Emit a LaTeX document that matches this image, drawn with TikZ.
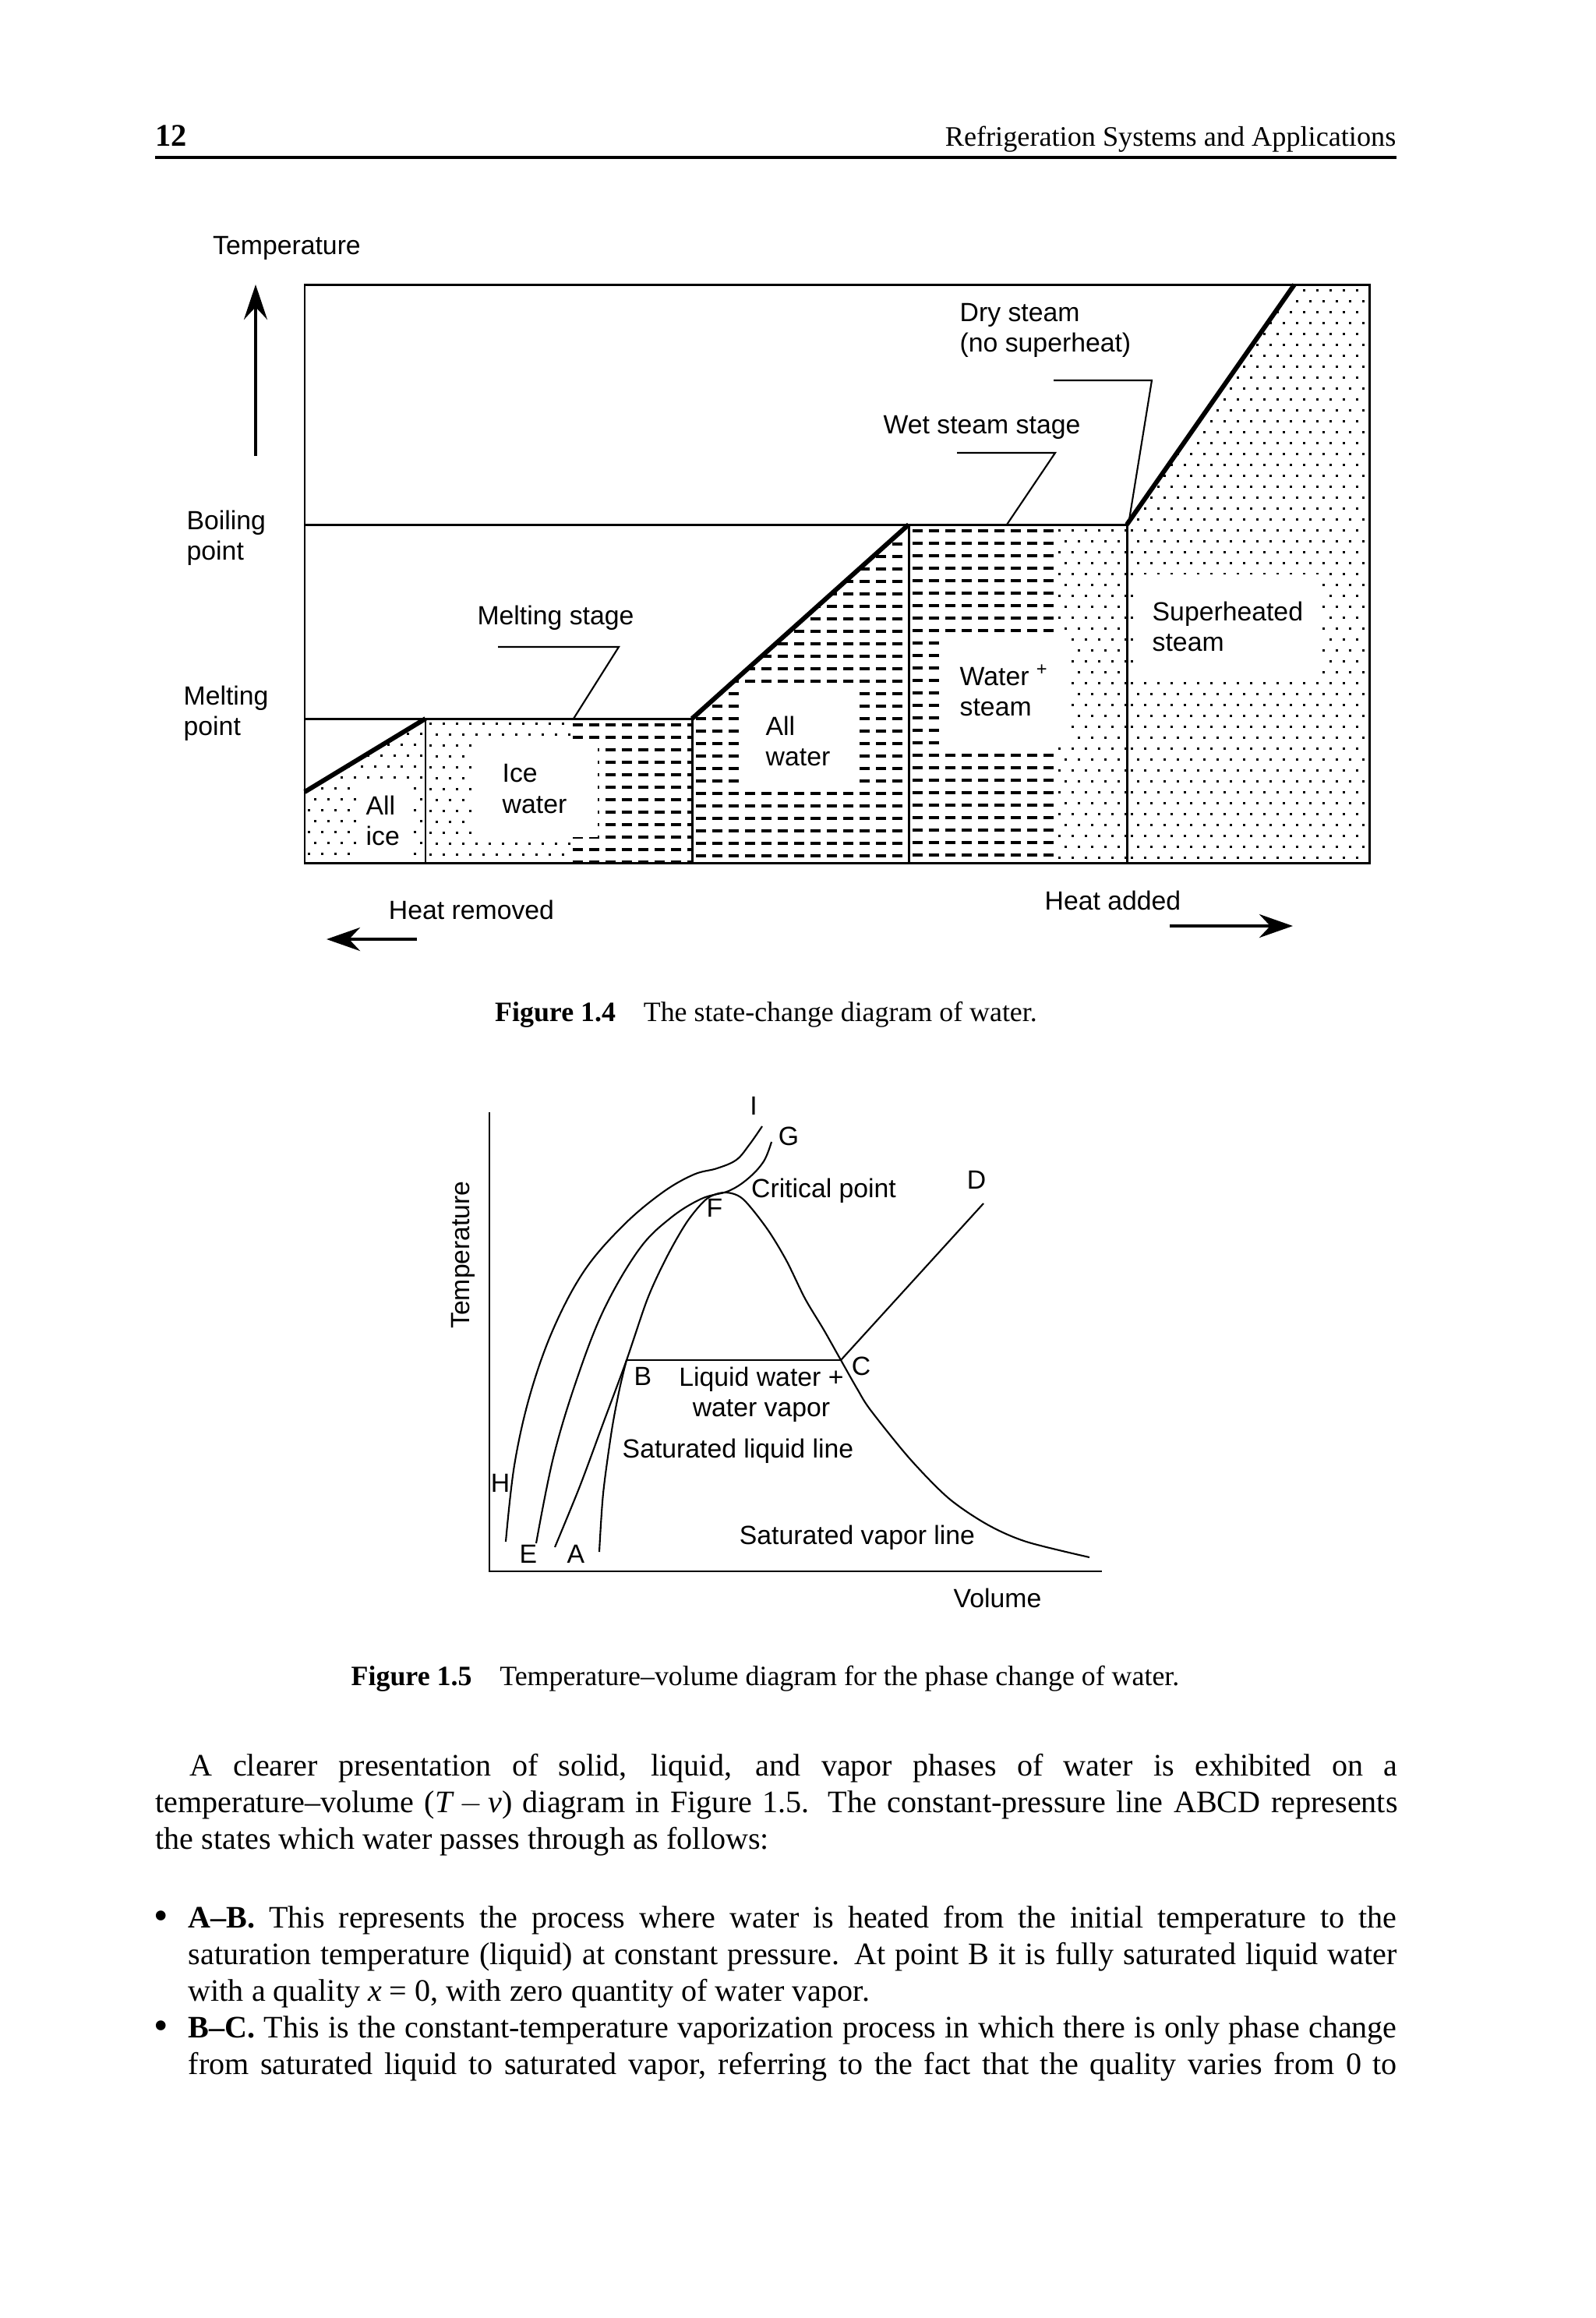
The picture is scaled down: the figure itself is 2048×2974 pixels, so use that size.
\documentclass[tikz,border=0pt]{standalone}
\usepackage{fontspec}
\setmainfont{Liberation Serif}
\newfontfamily\figsans{Liberation Sans}
\usetikzlibrary{arrows.meta}

% stipple and dash fills for the phase regions (px coordinates)
\newcommand{\dotgrid}[4]{%
  \pgfmathtruncatemacro{\dgnx}{(#2-#1)/17}%
  \pgfmathtruncatemacro{\dgny}{(#4-#3)/14}%
  \foreach \i in {0,...,\dgnx}{%
    \foreach \j in {0,...,\dgny}{%
      \fill ({#1+17*\i+8*mod(\j,2)},{#3+14*\j}) rectangle ++(3,3);%
    }%
  }%
}
\newcommand{\dashgrid}[4]{%
  \pgfmathtruncatemacro{\dgnx}{(#2-#1)/21}%
  \pgfmathtruncatemacro{\dgny}{(#4-#3)/16}%
  \foreach \i in {0,...,\dgnx}{%
    \foreach \j in {0,...,\dgny}{%
      \fill ({#1+21*\i},{#3+16*\j}) rectangle ++(13,3.5);%
    }%
  }%
}

\tikzset{
  boxline/.style={line width=0.85pt},
  phaseline/.style={line width=1.7pt},
  leader/.style={line width=0.6pt},
  curve/.style={line width=0.6pt},
  lbl/.style={font=\figsans\fontsize{9.6}{11.2}\selectfont, inner sep=0pt, align=left},
  hole/.style={lbl, fill=white, anchor=west},
  temparrow/.style={line width=1pt, -{Stealth[length=0.45cm, width=0.3cm, inset=0.16cm]}},
  heatarrow/.style={line width=1.3pt, -{Stealth[length=0.43cm, width=0.3cm, inset=0.14cm]}},
  bodytext/.style={font=\fontsize{11.4}{13.4}\selectfont, inner sep=0pt, anchor=base west, align=justify},
  captext/.style={font=\fontsize{10.2}{12}\selectfont, inner sep=0pt, anchor=base},
  headtext/.style={font=\fontsize{10.3}{12}\selectfont, inner sep=0pt},
  bulletmark/.style={font=\fontsize{15}{15}\selectfont, inner sep=0pt, anchor=base west}
}

\begin{document}
\begin{tikzpicture}[x=0.01cm, y=-0.01cm]
\useasboundingbox (0,0) rectangle (2048,2974);

% running head
\node[headtext, anchor=base west, font=\fontsize{11.5}{12}\selectfont\bfseries] (pagenum) at (199,187) {12};
\node[headtext, anchor=base east] (runhead) at (1792,187) {Refrigeration Systems and Applications};
\coordinate (ruleL) at (199,202);
\coordinate (ruleR) at (1792,202);
\draw[line width=1pt] (ruleL) -- (ruleR);

%% Figure 1.4 -- state-change diagram
% phase region fills
\begin{scope}
  \clip (391,1016) -- (546,922) -- (546,1107) -- (391,1107) -- cycle;
  \dotgrid{395}{545}{926}{1105}
\end{scope}
\begin{scope}
  \clip (546,922) rectangle (888,1107);
  \dotgrid{551}{724}{927}{1104}
  \dashgrid{735}{888}{928}{1104}
\end{scope}
\begin{scope}
  \clip (888,922) -- (1166,673) -- (1166,1107) -- (888,1107) -- cycle;
  \dashgrid{893}{1166}{680}{1104}
\end{scope}
\begin{scope}
  \clip (1166,673) rectangle (1446,1107);
  \dashgrid{1171}{1345}{679}{1104}
  \dotgrid{1358}{1444}{679}{1104}
\end{scope}
\begin{scope}
  \clip (1446,673) -- (1661,365) -- (1757,365) -- (1757,1107) -- (1446,1107) -- cycle;
  \dotgrid{1451}{1755}{371}{1105}
\end{scope}

% region labels (white ground clears the fill)
\node[hole, inner xsep=0.12cm, inner ysep=0.17cm] (allice) at (457,1053) {All\\ice};
\node[hole, inner xsep=0.4cm, inner ysep=0.3cm] (icewater) at (604,1012) {Ice\\water};
\node[hole, inner xsep=0.35cm, inner ysep=0.32cm] (allwater) at (947,951) {All\\water};
\node[hole, inner xsep=0.25cm, inner ysep=0.36cm] (watersteam) at (1206,886) {Water \textsuperscript{+}\\steam};
\node[hole, inner xsep=0.25cm, inner ysep=0.35cm] (superheat) at (1453,804) {Superheated\\steam};

% frame and state lines
\draw[boxline] (391,365) rectangle (1757,1107);
\draw[boxline] (391,673) -- (1446,673);
\draw[boxline] (391,922) -- (888,922);
\draw[boxline] (546,922) -- (546,1107);
\draw[boxline] (888,922) -- (888,1107);
\draw[boxline] (1166,673) -- (1166,1107);
\draw[boxline] (1446,673) -- (1446,1107);
\draw[phaseline] (391,1016) -- (546,922);
\draw[phaseline] (888,922) -- (1166,673);
\draw[phaseline] (1446,673) -- (1661,365);

% axis labels
\node[lbl] (templbl) at (368,318) {Temperature};
\coordinate (tempTail) at (328,585);
\coordinate (tempTip) at (328,365);
\draw[temparrow] (tempTail) -- (tempTip);
\node[lbl, anchor=west] (boillbl) at (239,690) {Boiling\\point};
\node[lbl, anchor=west] (meltlbl) at (235,915) {Melting\\point};

% stage call-outs
\node[lbl] (meltstage) at (713,793) {Melting stage};
\coordinate (meltA) at (639,830);
\coordinate (meltB) at (794,830);
\coordinate (meltC) at (736,922);
\draw[leader] (meltA) -- (meltB) -- (meltC);

\node[lbl] (wetstage) at (1260,548) {Wet steam stage};
\coordinate (wetA) at (1228,581);
\coordinate (wetB) at (1354,581);
\coordinate (wetC) at (1292,673);
\draw[leader] (wetA) -- (wetB) -- (wetC);

\node[lbl, anchor=west] (drysteam) at (1231,424) {Dry steam\\(no superheat)};
\coordinate (dryA) at (1352,488);
\coordinate (dryB) at (1478,488);
\coordinate (dryC) at (1448,673);
\draw[leader] (dryA) -- (dryB) -- (dryC);

% heat direction
\node[lbl] (heatrem) at (605,1167) {Heat removed};
\coordinate (remTail) at (535,1205);
\coordinate (remTip) at (419,1205);
\draw[heatarrow] (remTail) -- (remTip);
\node[lbl] (heatadd) at (1428,1155) {Heat added};
\coordinate (addTail) at (1501,1188);
\coordinate (addTip) at (1659,1188);
\draw[heatarrow] (addTail) -- (addTip);

\node[captext] (cap4) at (983,1310) {\textbf{Figure 1.4}\quad The state-change diagram of water.};

%% Figure 1.5 -- T-v diagram
\coordinate (axTop) at (628,1427);
\coordinate (axOrig) at (628,2016);
\coordinate (axRight) at (1414,2016);
\draw[curve] (axTop) -- (axOrig) -- (axRight);

\coordinate (ptA) at (769,1991);
\coordinate (ptB) at (804,1745);
\coordinate (ptC) at (1079,1745);
\coordinate (ptD) at (1262,1544);

% constant pressure line ABCD
\draw[curve] plot[smooth] coordinates {(769,1991) (774,1916) (785,1835) (795,1782) (804,1745)};
\draw[curve] (ptB) -- (ptC);
\draw[curve] (ptC) -- (ptD);

% saturation dome
\draw[curve] plot[smooth] coordinates {(712,1985) (744,1907) (774,1826) (804,1745) (831,1666)
  (856,1612) (882,1567) (907,1538) (930,1530) (953,1538) (984,1576) (1009,1617) (1033,1666)
  (1057,1706) (1079,1745) (1100,1782) (1117,1809) (1167,1871) (1217,1922) (1267,1956)
  (1317,1978) (1398,1998)};

% curves E-G and H-I
\draw[curve] plot[smooth, tension=0.6] coordinates {(688,1980) (710,1870) (740,1770) (775,1680)
  (820,1603) (860,1563) (900,1538) (935,1528) (960,1512) (980,1490) (990,1465)};
\draw[curve] plot[smooth, tension=0.6] coordinates {(649,1978) (660,1880) (680,1790) (710,1705)
  (750,1630) (800,1572) (850,1530) (890,1507) (920,1499) (945,1488) (962,1468) (978,1445)};

% point and region labels
\node[lbl] (lblI) at (967,1419) {I};
\node[lbl] (lblG) at (1012,1458) {G};
\node[lbl] (critpt) at (1057,1528) {Critical point};
\node[lbl] (lblD) at (1253,1514) {D};
\node[lbl] (lblF) at (917,1550) {F};
\node[lbl] (lblB) at (825,1766) {B};
\node[lbl, align=center] (mixlbl) at (977,1789) {Liquid water +\\water vapor};
\node[lbl] (lblC) at (1105,1753) {C};
\node[lbl] (satliq) at (947,1862) {Saturated liquid line};
\node[lbl] (lblH) at (642,1903) {H};
\node[lbl] (satvap) at (1100,1973) {Saturated vapor line};
\node[lbl] (lblE) at (678,1994) {E};
\node[lbl] (lblA) at (739,1994) {A};
\node[lbl] (vollbl) at (1280,2050) {Volume};
\node[lbl, rotate=90] (tvtemp) at (594,1610) {Temperature};

\node[captext] (cap5) at (982,2162) {\textbf{Figure 1.5}\quad Temperature--volume diagram for the phase change of water.};

%% body text
\node[bodytext, text width=15.93cm] (para) at (199,2278) {\hspace*{0.44cm}A clearer presentation of solid, liquid, and vapor phases of water is exhibited on a\linebreak temperature--volume (\textit{T}\,$-$\,\textit{v}) diagram in Figure 1.5. The constant-pressure line ABCD represents\linebreak the states which water passes through as follows:};

\node[bulletmark] (bulAB) at (197,2475) {\textbullet};
\node[bodytext, text width=15.5cm] (itemAB) at (241,2473) {\textbf{A--B.} This represents the process where water is heated from the initial temperature to the\linebreak saturation temperature (liquid) at constant pressure. At point B it is fully saturated liquid water\linebreak with a quality \textit{x}~=~0, with zero quantity of water vapor.};
\node[bulletmark] (bulBC) at (197,2616) {\textbullet};
\node[bodytext, text width=15.5cm] (itemBC) at (241,2614) {\textbf{B--C.} This is the constant-temperature vaporization process in which there is only phase change\linebreak from saturated liquid to saturated vapor, referring to the fact that the quality varies from 0 to\linebreak};

\end{tikzpicture}
\end{document}
